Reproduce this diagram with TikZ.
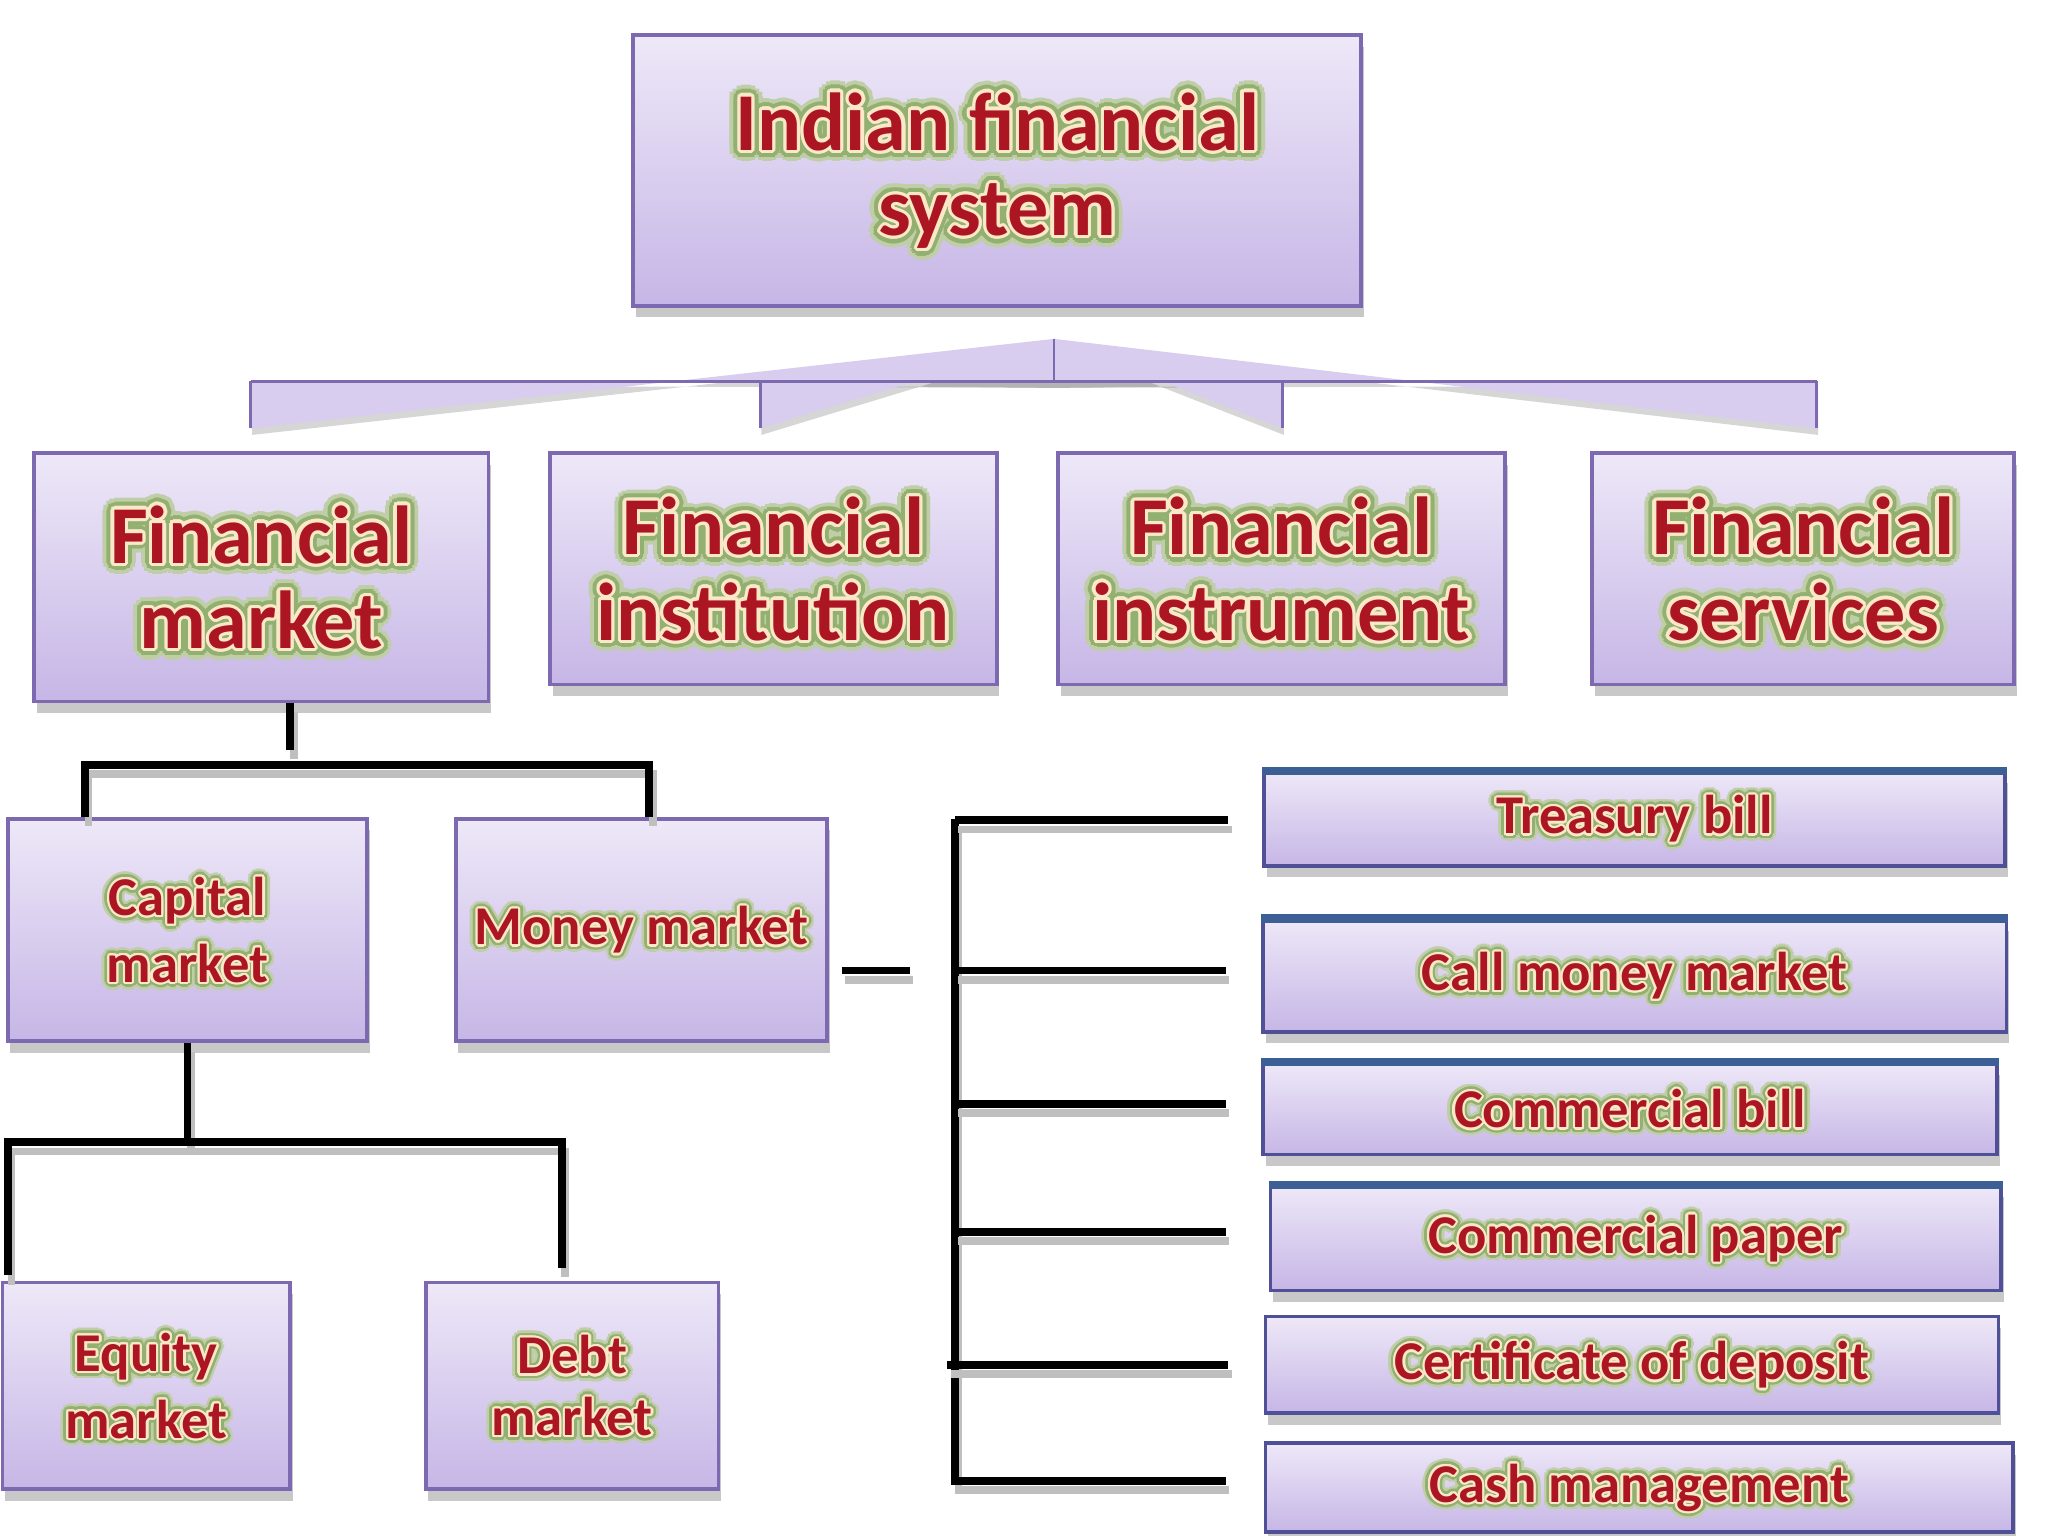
\documentclass[tikz,border=0pt]{standalone}
\usepackage{fontspec}
\setmainfont{Carlito}
\usetikzlibrary{shadows,calc}
\definecolor{boxtop}{RGB}{238,232,248}
\definecolor{boxbot}{RGB}{198,182,230}
\definecolor{boxline}{RGB}{125,105,175}
\definecolor{rline}{RGB}{80,80,150}
\definecolor{bandc}{RGB}{60,95,150}
\definecolor{wedgefill}{RGB}{216,205,238}
\definecolor{txtred}{RGB}{172,22,34}
\definecolor{creamc}{RGB}{250,232,200}
\definecolor{glowa}{RGB}{192,206,168}
\definecolor{glowb}{RGB}{146,176,112}
\newdimen\glr
\newcommand\cpy[3]{\rlap{\kern#1\glr\raise#2\glr\hbox{#3}}}
\newcommand\ringcp[3]{\glr=#2\relax\rlap{\color{#1}%
 \cpy{1}{0}{#3}\cpy{.924}{.383}{#3}\cpy{.707}{.707}{#3}\cpy{.383}{.924}{#3}%
 \cpy{0}{1}{#3}\cpy{-.383}{.924}{#3}\cpy{-.707}{.707}{#3}\cpy{-.924}{.383}{#3}%
 \cpy{-1}{0}{#3}\cpy{-.924}{-.383}{#3}\cpy{-.707}{-.707}{#3}\cpy{-.383}{-.924}{#3}%
 \cpy{0}{-1}{#3}\cpy{.383}{-.924}{#3}\cpy{.707}{-.707}{#3}\cpy{.924}{-.383}{#3}}}
\newcommand\gl[1]{\ringcp{glowa}{0.14em}{#1}\ringcp{glowb}{0.09em}{#1}\ringcp{creamc}{0.04em}{#1}{\color{txtred}#1}}
\tikzset{
  box/.style={draw=boxline, line width=0.8pt, top color=boxtop, bottom color=boxbot,
    drop shadow={shadow xshift=0.6pt, shadow yshift=-2.5pt, opacity=0.3, fill=black!70},
    inner sep=0pt, align=center},
  rbox/.style={box, draw=rline},
  bigt/.style={font=\fontsize{17.9}{18.6}\selectfont\bfseries},
  smallt/.style={font=\fontsize{11.9}{13.4}\selectfont\bfseries},
  bl/.style={line width=1.7pt, black,
    preaction={draw=black!25, line width=1.7pt, transform canvas={shift={(0.8pt,-2pt)}}}},
  band/.style={draw=bandc, line width=1.8pt},
  wedge/.style={fill=wedgefill},
  wshadow/.style={fill=black, opacity=0.16},
  wline/.style={draw=boxline, line width=0.6pt},
}
\begin{document}
\begin{tikzpicture}[x=0.01cm,y=-0.01cm]
\useasboundingbox (0,0) rectangle (1568,1176);
\fill[white] (0,0) rectangle (1568,1176);

% top node
\node[box,bigt,minimum width=5.57cm,minimum height=2.07cm] (top) at (763.5,130.5) {\gl{Indian financial}\\\gl{system}};

% level 2
\node[box,bigt,minimum width=3.48cm,minimum height=1.90cm] (FM) at (200,442) {\gl{Financial}\\\gl{market}};
\node[box,bigt,minimum width=3.42cm,minimum height=1.77cm] (FI) at (592,435.5) {\gl{Financial}\\\gl{institution}};
\node[box,bigt,minimum width=3.42cm,minimum height=1.77cm] (FN) at (981,435.5) {\gl{Financial}\\\gl{instrument}};
\node[box,bigt,minimum width=3.23cm,minimum height=1.77cm] (FS) at (1380.5,435.5) {\gl{Financial}\\\gl{services}};

% connector wedges from top node
\coordinate (apex) at ($(top.south)+(43.5,24)$);
\coordinate (hub) at (807,292);
\foreach \bx in {192,582,982,1391}{
  \fill[wshadow] (\bx+1,295) -- (\bx+1,333) -- ($(apex)+(1,5)$) -- (808,297) -- cycle;
}
\foreach \bx in {192,582,982,1391}{
  \path[wedge] (\bx,292) -- (\bx,328) -- (apex) -- (hub) -- cycle;
}
\draw[wline] (192,292) -- (1391,292);
\draw[wline] (apex) -- (hub);
\foreach \bx in {192,582,982,1391}{
  \draw[wline] (\bx,292) -- (\bx,328);
}

% level 3
\node[box,smallt,minimum width=2.75cm,minimum height=1.70cm] (CapM) at (143.5,712) {\gl{Capital}\\\gl{market}};
\node[box,smallt,minimum width=2.84cm,minimum height=1.70cm] (MonM) at (491,712) {\gl{Money market}};
\node[box,smallt,minimum width=2.20cm,minimum height=1.58cm] (Eq) at (112,1061) {\gl{Equity}\\\gl{market}};
\node[box,smallt,minimum width=2.24cm,minimum height=1.58cm] (Debt) at (438,1061) {\gl{Debt}\\\gl{market}};

% money market instruments
\node[rbox,smallt,minimum width=5.67cm,minimum height=0.72cm] (TB) at (1251.5,627) {\gl{Treasury bill}};
\node[rbox,smallt,minimum width=5.69cm,minimum height=0.86cm] (CMM) at (1251.5,747) {\gl{Call money market}};
\node[rbox,smallt,minimum width=5.62cm,minimum height=0.70cm] (CB) at (1248,849) {\gl{Commercial bill}};
\node[rbox,smallt,minimum width=5.59cm,minimum height=0.80cm] (CP) at (1252.5,948) {\gl{Commercial paper}};
\node[rbox,smallt,minimum width=5.61cm,minimum height=0.74cm] (CD) at (1249.5,1045) {\gl{Certificate of deposit}};
\node[rbox,smallt,minimum width=5.72cm,minimum height=0.68cm] (CM) at (1255,1139) {\gl{Cash management}};

\foreach \n in {TB,CMM,CB,CP}{
  \draw[band] ([yshift=-0.2pt]\n.north west) -- ([yshift=-0.2pt]\n.north east);
}

% black connectors
\draw[bl] ($(FM.south)+(22,0)$) -- ++(0,36);
\draw[bl] ($(CapM.north)+(-78.5,0)$) |- ($(MonM.north)+(6,-40)$) -- ($(MonM.north)+(6,0)$);
\draw[bl] (CapM.south) -- ++(0,79);
\draw[bl] ($(Eq.north)+(-106,-4)$) |- ($(Debt.north)+(-8,-106)$) -- ($(Debt.north)+(-8,-10)$);
\draw[bl] ($(MonM.east)+(10,31)$) -- ++(52,0);

\coordinate (spineT) at (731,627);
\coordinate (spineB) at (731,1137);
\draw[bl] (spineT) -- (spineB);
\draw[bl] (731,628) -- ($(TB.west)+(-26,1)$);
\draw[bl] (731,743) -- ($(CMM.west)+(-27,-4)$);
\draw[bl] (731,845) -- ($(CB.west)+(-27,-4)$);
\draw[bl] (731,943) -- ($(CP.west)+(-33,-5)$);
\draw[bl] (725,1045) -- ($(CD.west)+(-27,0)$);
\draw[bl] (731,1134) -- ($(CM.west)+(-29,-5)$);
\end{tikzpicture}
\end{document}
